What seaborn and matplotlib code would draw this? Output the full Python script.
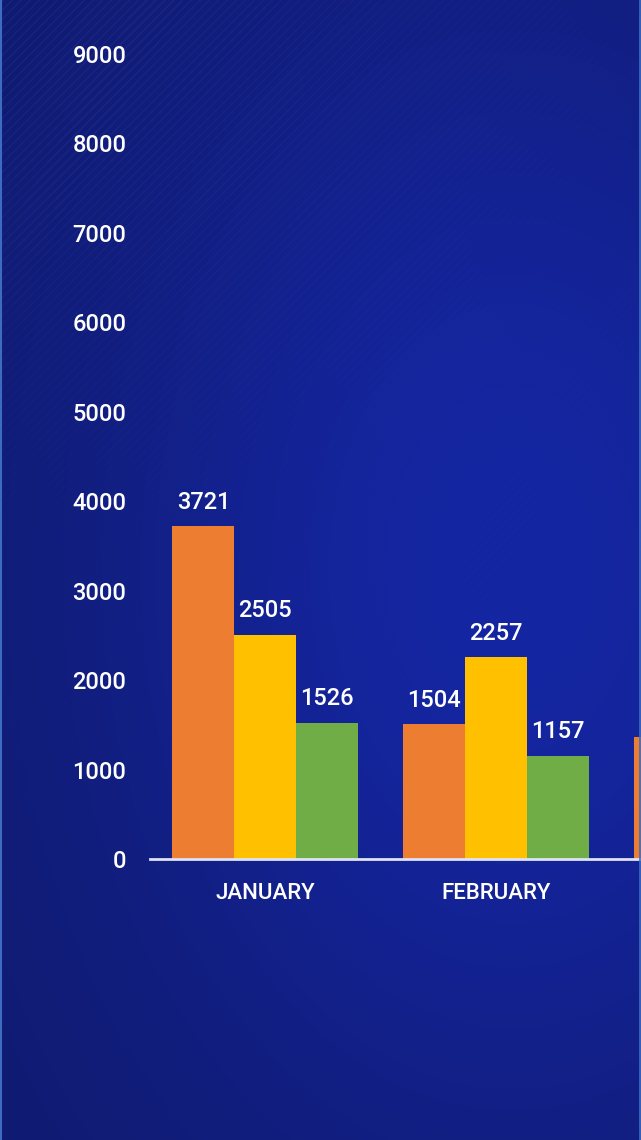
import numpy as np
import pandas as pd
import matplotlib
matplotlib.use("Agg")
import matplotlib.pyplot as plt
from matplotlib.colors import to_rgb
from matplotlib.lines import Line2D
import seaborn as sns

# ---- data ----
months = ["JANUARY", "FEBRUARY", "MARCH"]
series = ["Series 1", "Series 2", "Series 3"]
orange_vals = [3721, 1504, 1365]
yellow_vals = [2505, 2257, np.nan]
green_vals = [1526, 1157, np.nan]
ytick_vals = [0, 1000, 2000, 3000, 4000, 5000, 6000, 7000, 8000, 9000]
bar_colors = ["#ED7D31", "#FFC000", "#70AD47"]

rows = []
for s, vals in zip(series, [orange_vals, yellow_vals, green_vals]):
    for m, v in zip(months, vals):
        rows.append({"month": m, "series": s, "value": v})
df = pd.DataFrame(rows)

sns.set_theme(style="white")
plt.rcParams["font.family"] = ["Roboto", "DejaVu Sans"]

W, H = 641, 1140
fig = plt.figure(figsize=(W / 100, H / 100), dpi=100)

# ---- background gradient ----
bg = fig.add_axes([0, 0, 1, 1], zorder=0)
xx, yy = np.meshgrid(np.linspace(0, 1, W), np.linspace(0, 1, H))
t = np.exp(-(((xx - 0.8) ** 2) / 0.45 + ((yy - 0.50) ** 2) / 0.30))
dark = np.array(to_rgb("#0f1a6c"))
bright = np.array(to_rgb("#1526a3"))
img = dark[None, None, :] * (1 - t[..., None]) + bright[None, None, :] * t[..., None]
stripes = (np.sin((xx * W + yy * H) * 2 * np.pi / 9.0) > 0.75).astype(float)
mask = np.exp(-((xx - 0.0) ** 2 / 0.45 + (yy - 0.0) ** 2 / 0.10))
img = img + (stripes * mask * 0.03)[..., None]
img = np.clip(img, 0, 1)
bg.imshow(img, extent=[0, 1, 0, 1], aspect="auto", origin="upper")
bg.set_axis_off()
fig.add_artist(Line2D([0.0015, 0.0015], [0, 1], transform=fig.transFigure,
                      color="#3a6cc0", lw=1.5))
fig.add_artist(Line2D([0.9985, 0.9985], [0, 1], transform=fig.transFigure,
                      color="#3a6cc0", lw=1.2))

# ---- main axes ----
left, right = 150 / W, 1.0
bottom, top = (H - 859) / H, (H - 54) / H
ax = fig.add_axes([left, bottom, right - left, top - bottom], zorder=1)
ax.set_facecolor("none")

sns.barplot(data=df, x="month", y="value", hue="series", order=months,
            hue_order=series, palette=bar_colors, width=0.805, saturation=1,
            dodge=True, ax=ax, legend=False, linewidth=0)

ax.set_xlim(-0.5, 1.628)
ax.set_ylim(0, 9000)
ax.set_yticks(ytick_vals)
ax.set_yticklabels([str(v) for v in ytick_vals])
ax.set_xlabel("")
ax.set_ylabel("")
for sp in ["left", "right", "top"]:
    ax.spines[sp].set_visible(False)
ax.spines["bottom"].set_color("#dfe2f5")
ax.spines["bottom"].set_linewidth(2)
ax.tick_params(axis="y", length=0, pad=17, labelsize=17, labelcolor="white")
ax.tick_params(axis="x", length=0, pad=17, labelsize=16, labelcolor="white")
for lbl in ax.get_xticklabels() + ax.get_yticklabels():
    lbl.set_fontweight("medium")
ax.grid(False)

for cont in ax.containers:
    labels = []
    for bar in cont:
        h = bar.get_height()
        labels.append("" if np.isnan(h) else f"{int(round(h))}")
    ax.bar_label(cont, labels=labels, padding=9, color="white", fontsize=17,
                 fontweight="medium")

fig.savefig("out.png", dpi=100)
